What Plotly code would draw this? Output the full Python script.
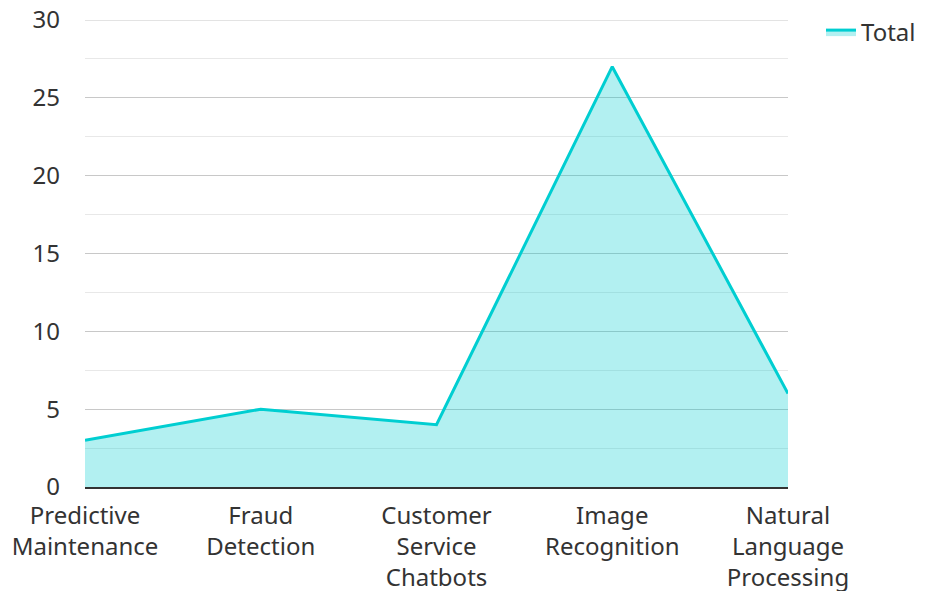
import plotly.graph_objects as go

categories = ["Predictive<br>Maintenance", "Fraud<br>Detection", "Customer<br>Service<br>Chatbots",
              "Image<br>Recognition", "Natural<br>Language<br>Processing"]
totals = [3, 5, 4, 27, 6]

fig = go.Figure()
fig.add_trace(go.Scatter(
    x=categories, y=totals, name="Total", mode="lines",
    line=dict(color="#00CED1", width=3),
    fill="tozeroy", fillcolor="rgba(0,206,209,0.3)",
))
fig.add_shape(type="line", xref="paper", yref="y", x0=0, x1=1, y0=30, y1=30,
              line=dict(color="#c8c8c8", width=1), layer="below")
fig.update_layout(
    width=913, height=591,
    margin=dict(l=77, r=133, t=12, b=112),
    paper_bgcolor="white", plot_bgcolor="white",
    font=dict(family="Noto Sans", size=24, color="#333333"),
    showlegend=True,
    legend=dict(xref="container", yref="container", x=1.0, y=0.9966,
                xanchor="right", yanchor="top", font=dict(size=24)),
    xaxis=dict(range=[0, 4], showgrid=False, showline=True, linecolor="#333333", linewidth=2,
               ticks="", tickfont=dict(size=24), automargin=False, ticklabelstandoff=6),
    yaxis=dict(range=[0, 30], dtick=5, showgrid=True, gridcolor="#c8c8c8", gridwidth=1,
               zeroline=False, showline=False, ticks="", ticklabelstandoff=24,
               tickfont=dict(size=24), automargin=False, ticklabeloverflow="allow",
               minor=dict(dtick=2.5, showgrid=True, gridcolor="#e8e8e8", gridwidth=1)),
)
fig.write_html("out.html")
